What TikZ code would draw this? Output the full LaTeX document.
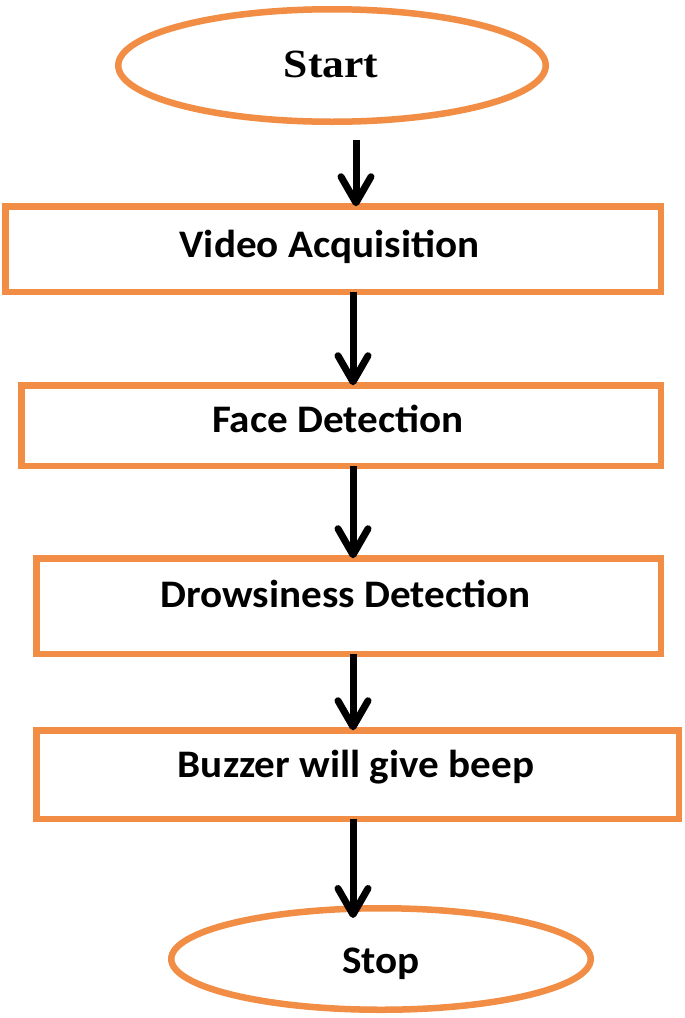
\documentclass[tikz,border=0pt]{standalone}
\usepackage{fontspec}
\setmainfont{Carlito}
\newfontfamily\startfont{Liberation Serif}
\usetikzlibrary{arrows.meta,shapes.geometric}
\definecolor{boxorange}{RGB}{242,141,69}
\newcommand{\wide}[1]{\scalebox{1.055}[1]{#1}}
\newcommand{\widestart}[1]{\scalebox{1.09}[1]{#1}}
\begin{document}
\begin{tikzpicture}[x=1pt,y=-1pt,
  stepbox/.style={draw=boxorange, line width=6.5pt, rectangle, inner sep=0pt, outer sep=0pt, fill=white},
  termbox/.style={draw=boxorange, line width=6.5pt, ellipse, inner sep=0pt, outer sep=0pt, fill=white},
  lbl/.style={anchor=base, inner sep=0pt, font=\bfseries\fontsize{39}{42}\selectfont},
  arr/.style={line width=7pt, -{Straight Barb[length=26pt,width=30pt,line width=7pt,round]}}
]
\useasboundingbox[fill=white] (0,0) rectangle (685,1018);

\node[termbox, minimum width=427.5pt, minimum height=112.5pt] (start) at (332,65.5) {};
\node[stepbox, minimum width=655.5pt, minimum height=85.5pt] (b1) at (333,249) {};
\node[stepbox, minimum width=639.5pt, minimum height=80.5pt] (b2) at (341,425.5) {};
\node[stepbox, minimum width=624.5pt, minimum height=95.5pt] (b3) at (348.5,606) {};
\node[stepbox, minimum width=642.5pt, minimum height=88.5pt] (b4) at (357.5,774.5) {};
\node[termbox, minimum width=419.5pt, minimum height=101.5pt] (stop) at (381,959) {};

\node[lbl, font=\startfont\bfseries\fontsize{40}{44}\selectfont] (tstart) at (331,77) {\widestart{Start}};
\node[lbl] (t1) at (329.5,257) {\wide{Video Acquisition}};
\node[lbl] (t2) at (338,432) {\wide{Face Detection}};
\node[lbl] (t3) at (345.5,607) {\wide{Drowsiness Detection}};
\node[lbl] (t4) at (356,777) {\wide{Buzzer will give beep}};
\node[lbl] (tstop) at (381,973) {\wide{Stop}};

\coordinate (a0) at (356,140);
\coordinate (ax) at (353,0);
\coordinate (ae) at (353,918);
\draw[arr] (a0) -- (b1.north -| a0);
\draw[arr] (b1.south -| ax) -- (b2.north -| ax);
\draw[arr] (b2.south -| ax) -- (b3.north -| ax);
\draw[arr] (b3.south -| ax) -- (b4.north -| ax);
\draw[arr] (b4.south -| ax) -- (ae);
\end{tikzpicture}
\end{document}
